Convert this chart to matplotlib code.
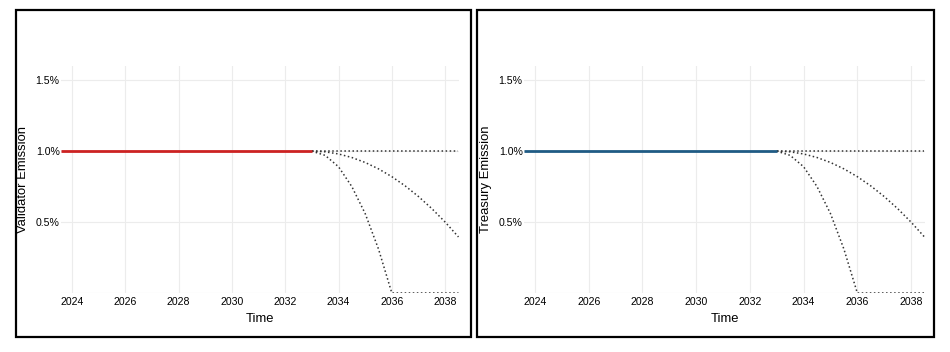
import matplotlib.pyplot as plt
from matplotlib.patches import Rectangle

plt.rcParams['font.family'] = ['Liberation Sans', 'DejaVu Sans']

# emission history (percent), constant until 2033
hist_years = [2023.59, 2033.0]
hist_rate = [1.0, 1.0]

# projected scenarios after 2033
flat_years = [2033.0, 2038.5]
flat_rate = [1.0, 1.0]

slow_years = [2033.0, 2033.5, 2034.0, 2034.5, 2035.0, 2035.5, 2036.0,
              2036.5, 2037.0, 2037.5, 2038.0, 2038.5]
slow_rate = [1.0, 0.995, 0.98, 0.955, 0.92, 0.875, 0.82,
             0.755, 0.68, 0.595, 0.5, 0.395]

fast_years = [2033.0, 2033.5, 2034.0, 2034.5, 2035.0, 2035.5, 2036.0, 2038.5]
fast_rate = [1.0, 0.97, 0.89, 0.75, 0.56, 0.31, 0.0, 0.0]

xticks = [2024, 2026, 2028, 2030, 2032, 2034, 2036, 2038]
yticks = [0.5, 1.0, 1.5]
ylabels = ['0.5%', '1.0%', '1.5%']

panels = [
    ('Validator Emission', '#cc2222', [61 / 950, 59 / 352, 398 / 950, 227 / 352]),
    ('Treasury Emission', '#1f5b84', [524 / 950, 59 / 352, 401 / 950, 227 / 352]),
]
frames = [(16, 15, 455, 327), (477, 15, 457, 327)]

fig = plt.figure(figsize=(9.5, 3.52), dpi=100)

for (ylab, color, rect), (fx, fy, fw, fh) in zip(panels, frames):
    fig.add_artist(Rectangle((fx / 950, fy / 352), fw / 950, fh / 352,
                             transform=fig.transFigure, fill=False,
                             edgecolor='black', linewidth=1.6))
    ax = fig.add_axes(rect)
    ax.plot(flat_years, flat_rate, ':', color='#333333', lw=1.1)
    ax.plot(slow_years, slow_rate, ':', color='#333333', lw=1.1)
    ax.plot(fast_years, fast_rate, ':', color='#333333', lw=1.1)
    ax.plot(hist_years, hist_rate, color=color, lw=2.0, solid_capstyle='butt')

    ax.set_xlim(2023.59, 2038.52)
    ax.set_ylim(0, 1.6)
    ax.set_xticks(xticks)
    ax.set_xticklabels([str(x) for x in xticks])
    ax.set_yticks(yticks)
    ax.set_yticklabels(ylabels)
    ax.tick_params(axis='x', length=0, labelsize=7.6, pad=3)
    ax.tick_params(axis='y', length=0, labelsize=7.6, pad=1)
    ax.grid(True, color='#ececec', lw=0.8)
    ax.axhline(0, color='#ececec', lw=0.8, zorder=0)
    for s in ax.spines.values():
        s.set_visible(False)
    ax.set_xlabel('Time', fontsize=9.4, labelpad=4)
    ax.set_ylabel(ylab, fontsize=9.4, labelpad=5)

fig.savefig('out.png', dpi=100)
